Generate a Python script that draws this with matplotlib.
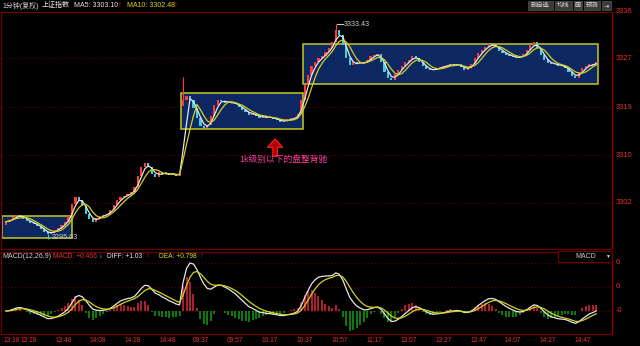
import numpy as np
import pandas as pd
import matplotlib
matplotlib.use("Agg")
import matplotlib.pyplot as plt
from matplotlib.patches import Rectangle, FancyArrow
from matplotlib.transforms import blended_transform_factory

plt.rcParams['font.family'] = ['Liberation Sans', 'Noto Sans CJK SC', 'DejaVu Sans']

# 2-minute closes (day 1 afternoon, then day 2)
closes_day1 = [3298.7, 3299.0, 3299.5, 3299.9, 3299.7, 3299.2, 3298.8, 3298.5, 3298.3, 3298.0,
               3297.4, 3296.9, 3296.5, 3296.9, 3297.2, 3297.6, 3298.1, 3298.7, 3299.7, 3301.8,
               3303.1, 3302.5, 3301.5, 3300.1, 3299.2, 3298.7, 3299.4, 3299.7, 3299.9, 3300.1,
               3300.8, 3301.6, 3302.5, 3303.1, 3303.2, 3303.6, 3303.9, 3304.8, 3306.8, 3308.3,
               3309.0, 3308.3, 3307.1, 3306.6, 3307.5, 3307.1, 3307.3, 3306.9, 3307.1, 3306.8,
               3307.1]
closes_day2 = [3320.1, 3320.8, 3320.1, 3318.7, 3317.0, 3315.6, 3315.2, 3315.7, 3317.3, 3319.3,
               3320.1, 3320.0, 3319.6, 3319.8, 3319.6, 3319.4, 3318.9, 3318.4, 3318.0, 3317.5,
               3317.8, 3317.3, 3317.0, 3317.3, 3317.0, 3317.1, 3316.8, 3316.6, 3316.3, 3316.4,
               3316.8, 3316.8, 3317.0, 3317.7, 3320.1, 3322.8, 3324.5, 3326.1, 3326.8, 3327.5,
               3327.9, 3328.6, 3329.3, 3330.3, 3332.5, 3331.6, 3329.8, 3327.5, 3326.3, 3326.8,
               3326.5, 3326.8, 3326.6, 3327.2, 3327.9, 3328.1, 3328.2, 3326.8, 3325.1, 3324.0,
               3323.7, 3324.7, 3325.4, 3326.1, 3326.8, 3327.2, 3327.9, 3327.5, 3326.8, 3326.1,
               3325.6, 3325.4, 3325.4, 3325.8, 3325.9, 3326.1, 3326.3, 3326.5, 3326.1, 3326.5,
               3325.9, 3325.4, 3325.8, 3326.5, 3327.5, 3328.4, 3328.9, 3329.5, 3330.0, 3329.8,
               3329.5, 3328.8, 3328.4, 3328.1, 3327.9, 3327.7, 3327.5, 3327.7, 3328.2, 3328.9,
               3329.8, 3330.3, 3329.3, 3328.1, 3327.2, 3326.6, 3326.5, 3326.5, 3326.1, 3326.1,
               3325.8, 3325.1, 3324.4, 3324.0, 3325.1, 3325.8, 3326.1, 3326.5, 3326.3, 3326.8]
day1_open = 3298.2
day2_open = 3319.0
spike_bars = [51, 95]
spike_highs = [3324.2, 3333.43]
low_bar = 12
low_val = 3295.63

# minute index of each time label (13:18 = 0, day 2 starts at 102)
tick_minutes = [0, 10, 30, 50, 70, 90, 109, 129, 149, 169, 189, 209, 229, 249, 269, 289, 309, 329]
tick_labels = ['13:18', '13:28', '13:48', '14:08', '14:28', '14:48', '09:37', '09:57', '10:17',
               '10:37', '10:57', '11:17', '13:07', '13:27', '13:47', '14:07', '14:27', '14:47']

price_ticks = [3302.0, 3310.45, 3318.9, 3327.5, 3335.8]
price_tick_labels = ['3302', '3310', '3319', '3327', '3336']

# consolidation boxes: (first bar, last bar, low, high)
boxes = [(-1.15, 19.0, 3295.84, 3299.71),
         (50.4, 85.5, 3315.03, 3321.37),
         (85.5, 170.5, 3322.95, 3329.99)]

closes = np.array(closes_day1 + closes_day2)
n = len(closes)
x = np.arange(n)
opens = np.r_[day1_open, closes[:-1]]
opens[len(closes_day1)] = day2_open

s = pd.Series(closes)
ma5 = s.rolling(3, min_periods=1).mean()
ma10 = s.rolling(5, min_periods=1).mean()
ema_fast = s.ewm(span=6, adjust=False).mean()
ema_slow = s.ewm(span=13, adjust=False).mean()
diff = ema_fast - ema_slow
dea = diff.ewm(span=4.5, adjust=False).mean()
hist = 2 * (diff - dea)

W, H = 640, 346
RED = '#e83030'
DARK = '#6e0000'
FS = 5.0


def rect(x0, y0, x1, y1):
    return [x0 / W, 1 - y1 / H, (x1 - x0) / W, (y1 - y0) / H]


fig = plt.figure(figsize=(6.4, 3.46), dpi=100, facecolor='black')
ax = fig.add_axes(rect(1, 12, 612, 249))
ax2 = fig.add_axes(rect(1, 252, 612, 334))
xlim = ((1 - 6) / 3.472, (612 - 6) / 3.472)

for a in (ax, ax2):
    a.set_facecolor('black')
    a.set_xlim(*xlim)
    a.set_xticks([])
    a.set_yticks([])
    for sp in a.spines.values():
        sp.set_color(DARK)
        sp.set_linewidth(0.9)
    a.spines['right'].set_color('#9a0000')

# price panel
ax.set_ylim(3293.9, 3335.63)
for v in price_ticks[:-1]:
    ax.axhline(v, color='#5a0000', lw=0.8, ls=(0, (1, 2)), zorder=0)
trans = blended_transform_factory(ax.transAxes, ax.transData)
for v, lab in zip(price_ticks, price_tick_labels):
    ax.text(1.006, v, lab, transform=trans, color=RED, fontsize=5.4, va='center', ha='left', clip_on=False)

for b0, b1, lo, hi in boxes:
    ax.add_patch(Rectangle((b0, lo), b1 - b0, hi - lo, facecolor='#0c2762', edgecolor='#c8c820', lw=1.1, zorder=1))

up = closes >= opens
colors = np.where(up, '#ff3a3a', '#3fd0de')
ax.bar(x, np.maximum(np.abs(closes - opens), 0.2), bottom=np.minimum(opens, closes), width=0.62,
       color=colors, linewidth=0, zorder=3)
for b, h in zip(spike_bars, spike_highs):
    ax.vlines(b, max(opens[b], closes[b]), h, color=colors[b], lw=0.8, zorder=3)
ax.vlines(low_bar, low_val, min(opens[low_bar], closes[low_bar]), color=colors[low_bar], lw=0.8, zorder=3)

ax.plot(x, ma5, color='#e6e6e6', lw=0.9, zorder=4)
ax.plot(x, ma10, color='#d2d21e', lw=0.9, zorder=4)

ax.plot([95.3, 97.2], [3333.43, 3333.43], color='#c8c8c8', lw=0.8, zorder=5)
ax.text(97.4, 3333.43, '3333.43', color='#c8c8c8', fontsize=FS + 0.2, va='center', ha='left', zorder=5)
ax.text(13.3, 3295.95, '3295.63', color='#c8c8c8', fontsize=FS + 0.2, va='center', ha='left', zorder=5)

ax.add_patch(FancyArrow(77.5, 3310.2, 0, 3.1, width=1.3, head_width=4.4, head_length=1.5,
                        length_includes_head=True, facecolor='#b00000', edgecolor='#ff2020', lw=0.8, zorder=5))
ax.text(79.8, 3309.7, '1k级别以下的盘整背驰', color='#ff3c9c', fontsize=6.3, ha='center', va='center', zorder=5)

# MACD panel
peak = max(diff.max(), dea.max(), hist.max())
span = peak / 0.586
lo, hi = -0.28 * span, 0.72 * span
ax2.set_ylim(lo, hi)
for ypx in (263, 287, 311):
    ax2.axhline(lo + (334 - ypx) / 82 * span, color='#5a0000', lw=0.8, ls=(0, (1, 2)), zorder=0)
hcol = np.where(hist >= 0, '#e02a3a', '#10a010')
ax2.vlines(x, 0, hist, colors=hcol, lw=1.1, zorder=2)
ax2.plot(x, diff, color='#e6e6e6', lw=0.9, zorder=3)
ax2.plot(x, dea, color='#d2d21e', lw=0.9, zorder=3)

for ypx, lab in zip((263, 287, 311), ('0', '0', '-0')):
    ax2.text(1.006, (334 - ypx) / 82, lab, transform=ax2.transAxes, color=RED, fontsize=5.4,
             va='center', ha='left', clip_on=False)

tt = blended_transform_factory(ax2.transData, ax2.transAxes)
for m, lab in zip(tick_minutes, tick_labels):
    ax2.text(m / 2 - 0.8, -0.075, lab, transform=tt, color=RED, fontsize=4.8, va='center', ha='left', clip_on=False)

# MACD selector box
fig.add_artist(Rectangle((558 / W, 1 - 262 / H), 54 / W, 11 / H, transform=fig.transFigure,
                         facecolor='black', edgecolor=DARK, lw=0.8))
fig.text(575 / W, 1 - 256.5 / H, 'MACD', color='#c8c8c8', fontsize=FS, va='center')
fig.text(605 / W, 1 - 256.5 / H, '▼', color='#e0e0e0', fontsize=3.5, va='center')


def row(y, parts):
    for xp, txt, col, fs in parts:
        fig.text(xp / W, 1 - y / H, txt, color=col, fontsize=fs, va='center', ha='left')


row(5.5, [(2, '1分钟(复权)', '#d0d0d0', FS), (42, '上证指数', '#e8e8e8', FS),
          (74, 'MA5: 3303.10', '#e8e8e8', FS), (118, '↑', '#ff2020', 5.6),
          (127, 'MA10: 3302.48', '#d8d820', FS), (174, '↑', '#ff2020', 5.6)])
row(257, [(2, 'MACD(12,26,9)', '#d0d0d0', FS), (53, 'MACD: +0.466', '#e83030', 4.8), (99, '↓', '#30d0e0', 5.6),
          (107, 'DIFF: +1.03', '#e8e8e8', 4.8), (146, '↑', '#ff2020', 5.6),
          (159, 'DEA: +0.798', '#d8d820', 4.8), (200, '↑', '#ff2020', 5.6)])

# top-right buttons
for x0, x1, txt in [(528, 553, '删自选'), (555, 572, '均线'), (574, 582, '画'), (584, 600, '预测'), (602, 611, '⇥')]:
    fig.add_artist(Rectangle((x0 / W, 1 - 10 / H), (x1 - x0) / W, 9 / H, transform=fig.transFigure,
                             facecolor='#3a3a3a', edgecolor='#555555', lw=0.5))
    fig.text((x0 + x1) / 2 / W, 1 - 5.5 / H, txt, color='#e0e0e0', fontsize=4.5, ha='center', va='center')

fig.savefig('out.png', dpi=100, facecolor='black')
